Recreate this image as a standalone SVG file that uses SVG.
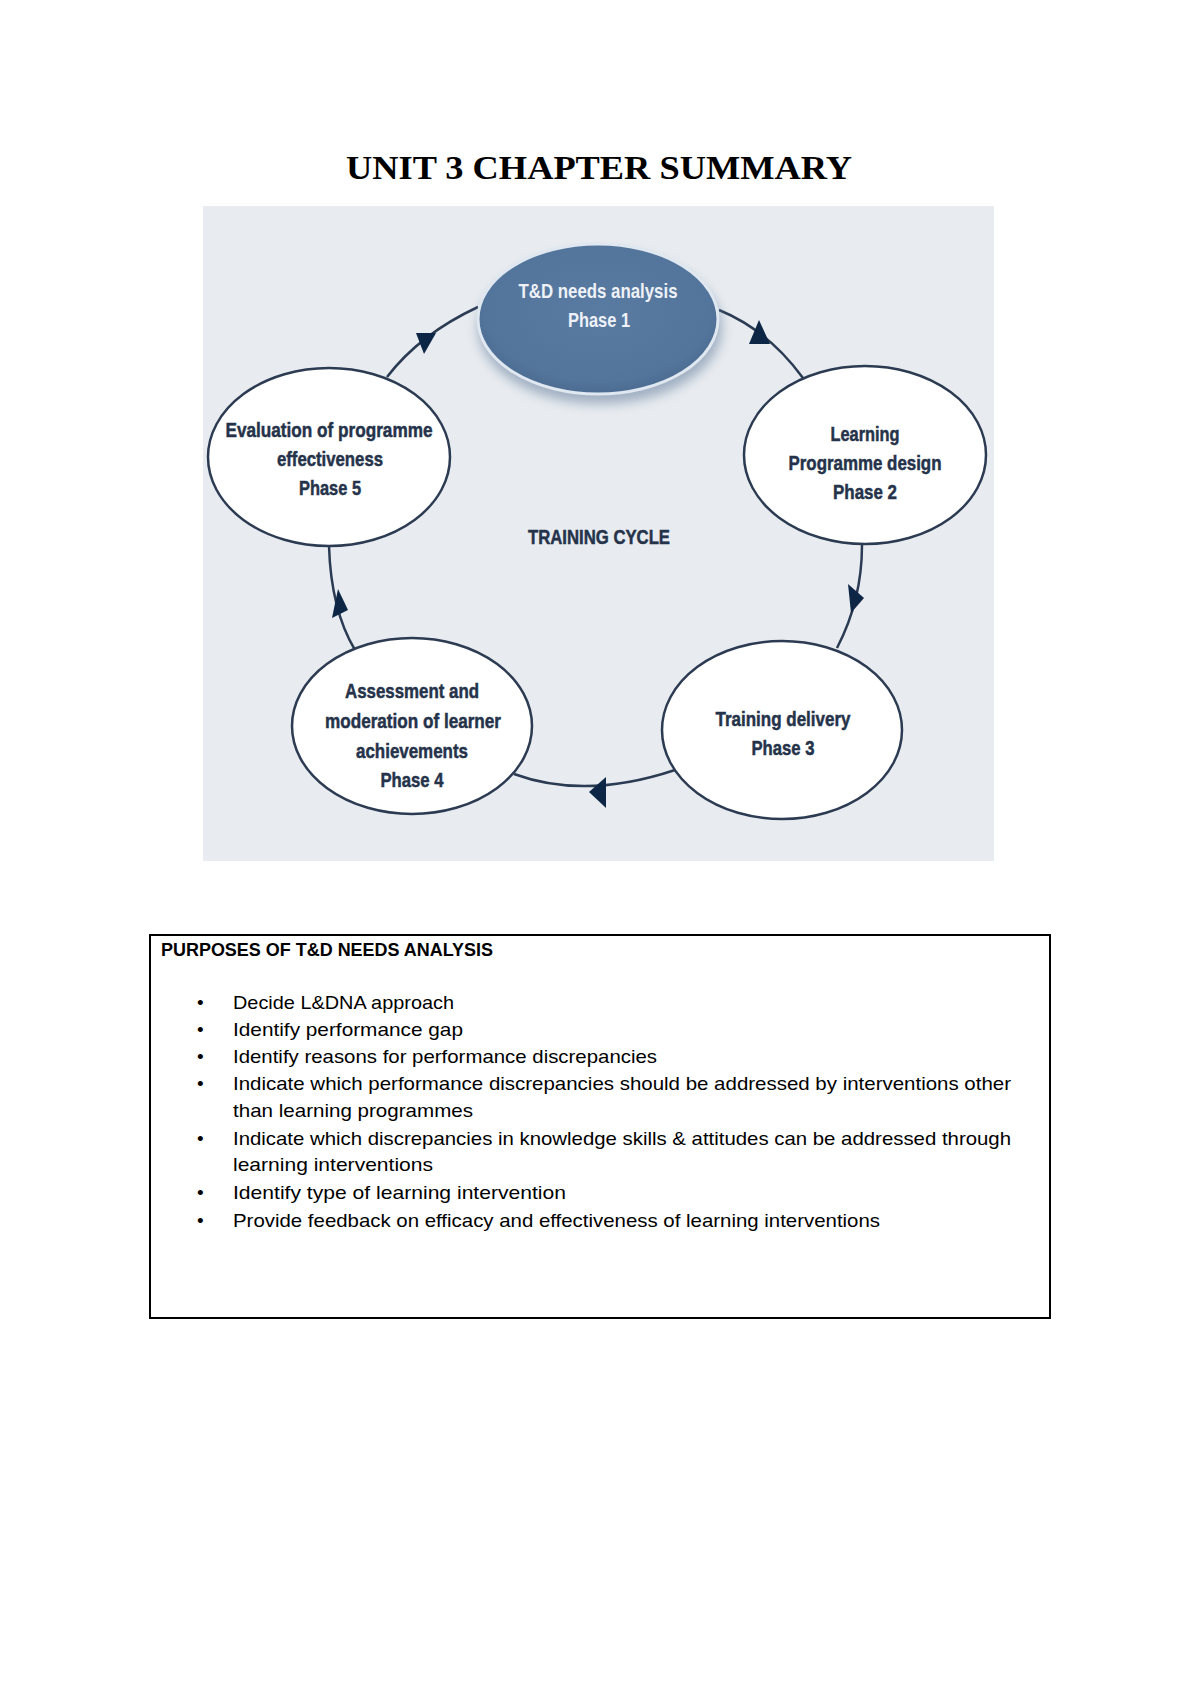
<svg xmlns="http://www.w3.org/2000/svg" width="1200" height="1696" viewBox="0 0 1200 1696">
<defs>
<style>
.title{font-family:"Liberation Serif","Times New Roman",serif;font-weight:bold;font-size:34px;fill:#000}
.node{fill:#ffffff;stroke:#2c3b52;stroke-width:2.5}
.lbl{font-family:"Liberation Sans",Arial,sans-serif;font-weight:bold;font-size:21px;fill:#25334a;stroke:#25334a;stroke-width:0.5;text-anchor:middle}
.lbl1{font-family:"Liberation Sans",Arial,sans-serif;font-weight:bold;font-size:21px;fill:#eef2f8;text-anchor:middle}
.conn{fill:none;stroke:#2c3b52;stroke-width:2.5}
.head{fill:#0f2645}
.body{font-family:"Liberation Sans",Arial,sans-serif;font-size:19px;fill:#000}
.bold{font-weight:bold}
</style>
<radialGradient id="g1" cx="50%" cy="45%" r="55%">
<stop offset="0" stop-color="#5a7ba1"/>
<stop offset="0.85" stop-color="#54759b"/>
<stop offset="1" stop-color="#4b6b91"/>
</radialGradient>
<filter id="sh" x="-30%" y="-30%" width="160%" height="170%">
<feGaussianBlur stdDeviation="6"/>
</filter>
<filter id="soft" x="-10%" y="-10%" width="120%" height="120%">
<feGaussianBlur stdDeviation="0.6"/>
</filter>
</defs>
<rect width="1200" height="1696" fill="#ffffff"/>
<text class="title" x="599" y="179" text-anchor="middle" textLength="506" lengthAdjust="spacingAndGlyphs">UNIT 3 CHAPTER SUMMARY</text>
<rect x="203" y="206" width="791" height="655" fill="#e8ecf0"/>
<g id="connectors" filter="url(#soft)">
<path class="conn" d="M387,377 Q420,334 478,307"/>
<path class="conn" d="M719,310 Q768,330 803,378"/>
<path class="conn" d="M862,545 Q862,600 837,648"/>
<path class="conn" d="M355,650 Q331,610 329,546"/>
<path class="conn" d="M514,774 Q585,800 675,770" stroke-width="3"/>
<polygon class="head" points="416,333 436,333 424,354"/>
<polygon class="head" points="759,320 749,344 770,344"/>
<polygon class="head" points="848,584 864,598 851,613"/>
<polygon class="head" points="338,589 348,610 332,618"/>
<polygon class="head" points="589,792 606,777 606,808"/>
</g>
<g id="phase1">
<ellipse cx="600" cy="328" rx="122" ry="76" fill="#6f86a3" opacity="0.6" filter="url(#sh)"/>
<ellipse cx="598" cy="319" rx="120" ry="75" fill="url(#g1)" stroke="#dfe7f1" stroke-width="3"/>
<text class="lbl1" x="598" y="298" textLength="159" lengthAdjust="spacingAndGlyphs">T&amp;D needs analysis</text>
<text class="lbl1" x="599" y="327" textLength="62" lengthAdjust="spacingAndGlyphs">Phase 1</text>
</g>
<g id="phase2">
<ellipse class="node" cx="865" cy="455" rx="121" ry="89"/>
<text class="lbl" x="865" y="441" textLength="69" lengthAdjust="spacingAndGlyphs">Learning</text>
<text class="lbl" x="865" y="470" textLength="153" lengthAdjust="spacingAndGlyphs">Programme design</text>
<text class="lbl" x="865" y="499" textLength="64" lengthAdjust="spacingAndGlyphs">Phase 2</text>
</g>
<g id="phase3">
<ellipse class="node" cx="782" cy="730" rx="120" ry="89"/>
<text class="lbl" x="783" y="726" textLength="135" lengthAdjust="spacingAndGlyphs">Training delivery</text>
<text class="lbl" x="783" y="755" textLength="63" lengthAdjust="spacingAndGlyphs">Phase 3</text>
</g>
<g id="phase4">
<ellipse class="node" cx="412" cy="726" rx="120" ry="88"/>
<text class="lbl" x="412" y="698" textLength="134" lengthAdjust="spacingAndGlyphs">Assessment and</text>
<text class="lbl" x="413" y="728" textLength="176" lengthAdjust="spacingAndGlyphs">moderation of learner</text>
<text class="lbl" x="412" y="758" textLength="112" lengthAdjust="spacingAndGlyphs">achievements</text>
<text class="lbl" x="412" y="787" textLength="63" lengthAdjust="spacingAndGlyphs">Phase 4</text>
</g>
<g id="phase5">
<ellipse class="node" cx="329" cy="457" rx="121" ry="89"/>
<text class="lbl" x="329" y="437" textLength="207" lengthAdjust="spacingAndGlyphs">Evaluation of programme</text>
<text class="lbl" x="330" y="466" textLength="106" lengthAdjust="spacingAndGlyphs">effectiveness</text>
<text class="lbl" x="330" y="495" textLength="62" lengthAdjust="spacingAndGlyphs">Phase 5</text>
</g>
<g id="cycle-label">
<text class="lbl" x="599" y="544" textLength="142" lengthAdjust="spacingAndGlyphs">TRAINING CYCLE</text>
</g>
<g id="purposes-box">
<rect x="150" y="935" width="900" height="383" fill="#ffffff" stroke="#000000" stroke-width="2"/>
<text class="body bold" x="161" y="956" textLength="332" lengthAdjust="spacingAndGlyphs">PURPOSES OF T&amp;D NEEDS ANALYSIS</text>
<g class="body">
<text x="197" y="1009">•</text>
<text x="233" y="1009" textLength="221" lengthAdjust="spacingAndGlyphs">Decide L&amp;DNA approach</text>
<text x="197" y="1036">•</text>
<text x="233" y="1036" textLength="230" lengthAdjust="spacingAndGlyphs">Identify performance gap</text>
<text x="197" y="1063">•</text>
<text x="233" y="1063" textLength="424" lengthAdjust="spacingAndGlyphs">Identify reasons for performance discrepancies</text>
<text x="197" y="1090">•</text>
<text x="233" y="1090" textLength="778" lengthAdjust="spacingAndGlyphs">Indicate which performance discrepancies should be addressed by interventions other</text>
<text x="233" y="1117" textLength="240" lengthAdjust="spacingAndGlyphs">than learning programmes</text>
<text x="197" y="1145">•</text>
<text x="233" y="1145" textLength="778" lengthAdjust="spacingAndGlyphs">Indicate which discrepancies in knowledge skills &amp; attitudes can be addressed through</text>
<text x="233" y="1171" textLength="200" lengthAdjust="spacingAndGlyphs">learning interventions</text>
<text x="197" y="1199">•</text>
<text x="233" y="1199" textLength="333" lengthAdjust="spacingAndGlyphs">Identify type of learning intervention</text>
<text x="197" y="1227">•</text>
<text x="233" y="1227" textLength="647" lengthAdjust="spacingAndGlyphs">Provide feedback on efficacy and effectiveness of learning interventions</text>
</g>
</g>
</svg>
